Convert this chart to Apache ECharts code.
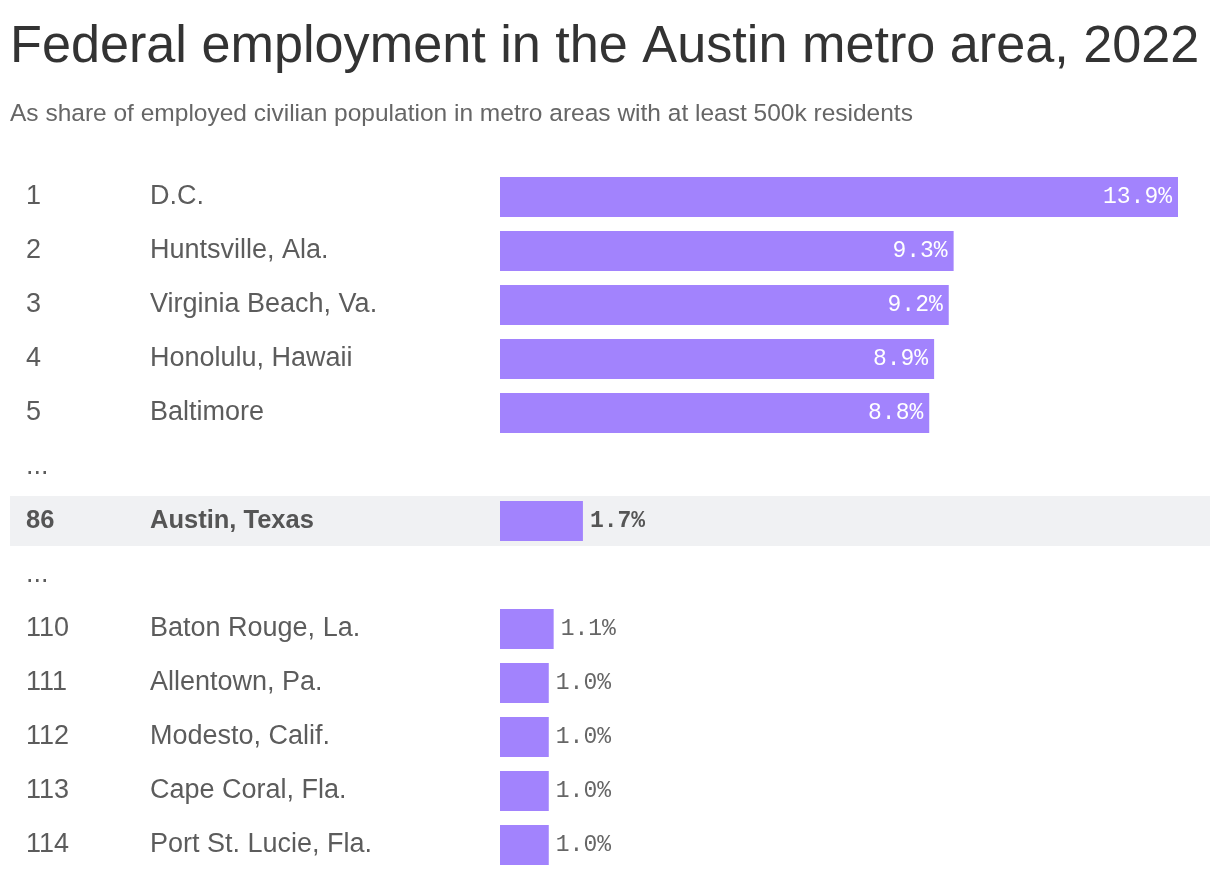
<!DOCTYPE html>
<html>
<head>
<meta charset="utf-8">
<script src="https://cdn.jsdelivr.net/npm/echarts@6/dist/echarts.min.js"></script>
<style>
html,body{margin:0;padding:0;background:#fff;}
#c{width:1220px;height:882px;}
</style>
</head>
<body>
<div id="c"></div>
<script>
const titleText = 'Federal employment in the Austin metro area, 2022';
const subtitleText = 'As share of employed civilian population in metro areas with at least 500k residents';
const ranks = ['1','2','3','4','5','...','86','...','110','111','112','113','114'];
const names = ['D.C.','Huntsville, Ala.','Virginia Beach, Va.','Honolulu, Hawaii','Baltimore','','Austin, Texas','','Baton Rouge, La.','Allentown, Pa.','Modesto, Calif.','Cape Coral, Fla.','Port St. Lucie, Fla.'];
const values = [13.9, 9.3, 9.2, 8.9, 8.8, null, 1.7, null, 1.1, 1.0, 1.0, 1.0, 1.0];
const highlightIndex = 6;

const SANS = '"Liberation Sans", Arial, sans-serif';
const MONO = '"Liberation Mono", "DejaVu Sans Mono", monospace';
const categories = ranks.map((r, i) => i + ':' + r);

const barData = values.map((v, i) => {
  if (v === null) return '-';
  const inside = v >= 5;
  const bold = i === highlightIndex;
  return {
    value: v,
    label: {
      show: true,
      position: inside ? 'insideRight' : 'right',
      distance: inside ? 6 : 7,
      color: inside ? '#ffffff' : (bold ? '#555555' : '#666666'),
      fontWeight: bold ? 'bold' : 'normal',
      fontFamily: MONO,
      fontSize: 23,
      formatter: p => p.value.toFixed(1) + '%'
    }
  };
});

const chart = echarts.init(document.getElementById('c'), null, {renderer: 'canvas'});
chart.setOption({
  animation: false,
  backgroundColor: '#ffffff',
  title: [
    {text: titleText, left: 5, top: 17, padding: 5,
     textStyle: {fontFamily: SANS, fontSize: 52.2, fontWeight: 'normal', color: '#333333'}},
    {text: subtitleText, left: 5, top: 97, padding: 5,
     textStyle: {fontFamily: SANS, fontSize: 24.5, fontWeight: 'normal', color: '#666666'}}
  ],
  grid: {left: 500, right: 42, top: 170, bottom: 10, containLabel: false},
  xAxis: {
    type: 'value', min: 0, max: 13.9,
    show: false
  },
  yAxis: {
    type: 'category',
    inverse: true,
    data: categories,
    axisLine: {show: false},
    axisTick: {show: false},
    splitLine: {show: false},
    axisLabel: {
      align: 'left',
      margin: 474,
      formatter: (val, idx) => {
        const b = idx === highlightIndex ? 'b' : '';
        if (names[idx] === '') return '{r' + b + '|' + ranks[idx] + '}';
        return '{r' + b + '|' + ranks[idx] + '}{n' + b + '|' + names[idx] + '}';
      },
      rich: {
        r: {width: 124, fontFamily: SANS, fontSize: 27, color: '#5c5c5c'},
        n: {fontFamily: SANS, fontSize: 27, color: '#5c5c5c'},
        rb: {width: 124, fontFamily: SANS, fontSize: 25.5, fontWeight: 'bold', color: '#555555'},
        nb: {fontFamily: SANS, fontSize: 25.5, fontWeight: 'bold', color: '#555555'}
      }
    }
  },
  series: [{
    type: 'bar',
    data: barData,
    barWidth: 40,
    itemStyle: {color: '#a283fd'},
    z: 3
  }]
});

const yc = chart.convertToPixel({yAxisIndex: 0}, highlightIndex);
chart.setOption({
  graphic: [{
    type: 'rect',
    z: -10,
    silent: true,
    shape: {x: 10, y: yc - 25, width: 1200, height: 50},
    style: {fill: '#f0f1f3'}
  }]
});
</script>
</body>
</html>
